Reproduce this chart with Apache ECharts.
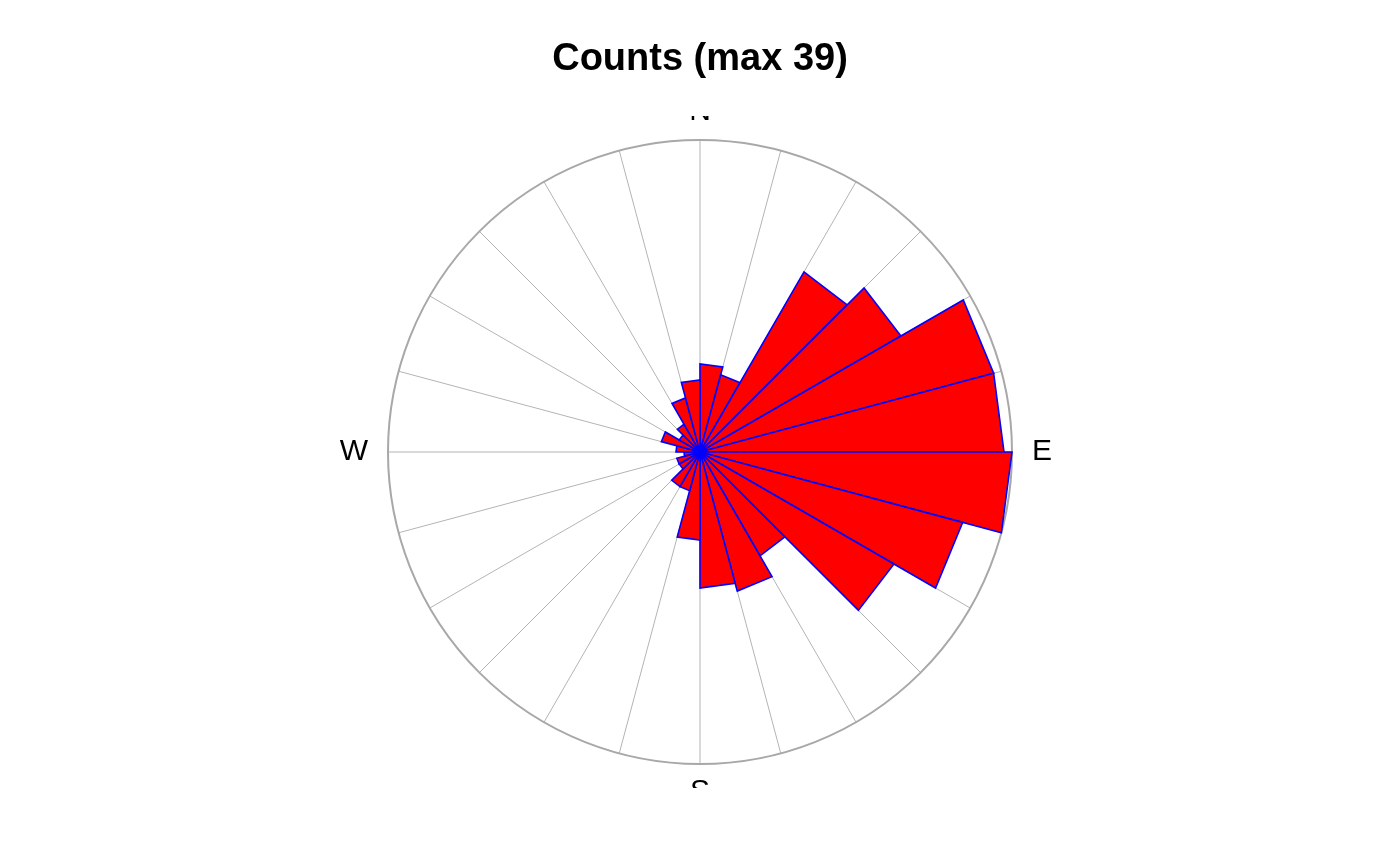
<!DOCTYPE html>
<html>
  <head>
    <meta charset="utf-8">
    <script src="https://cdn.jsdelivr.net/npm/echarts@6/dist/echarts.min.js"></script>
  </head>
  <body style="margin:0; background:#ffffff;">
    <div id="rose_chart" style="width:1400px;height:866px;"></div>
    <script>

      // Settori di 15 gradi (inizio del settore, in gradi da Nord in senso orario)
      const sectorStart = [0, 15, 30, 45, 60, 75, 90, 105, 120, 135, 150, 165,
                           180, 195, 210, 225, 240, 255, 270, 285, 300, 315, 330, 345];
      // Conteggi per settore
      const counts = [11, 10, 26, 29, 38, 38, 39, 34, 28, 15, 18, 17,
                      11, 5, 5, 3, 3, 2, 3, 5, 3, 4, 7, 9];
      const sectorWidth = 15;
      const maxCount = 39;

      // Etichette cardinali
      const compassLabels = {0: 'N', 90: 'E', 180: 'S', 270: 'W'};

      const roseData = sectorStart.map(function (a, i) { return [counts[i], a]; });

      var myChart = echarts.init(document.getElementById('rose_chart'));

      var option = {
        animation: false,
        title: {
          text: 'Counts (max ' + maxCount + ')',
          left: 'center',
          top: 36,
          textStyle: {fontFamily: 'Liberation Sans', fontSize: 38, fontWeight: 'bold', color: '#000'}
        },
        polar: {center: [700, 452], radius: 312},
        angleAxis: {
          type: 'value',
          min: 0,
          max: 360,
          interval: 15,
          startAngle: 90,
          clockwise: true,
          axisLine: {show: true, lineStyle: {color: '#a8a8a8', width: 2}},
          axisTick: {show: false},
          splitLine: {show: true, lineStyle: {color: '#b4b4b4', width: 1}},
          axisLabel: {
            margin: 20,
            fontFamily: 'Liberation Sans',
            fontSize: 30,
            lineHeight: 16,
            color: '#000',
            formatter: function (v) { return compassLabels[v] || ''; }
          }
        },
        radiusAxis: {
          type: 'value',
          min: 0,
          max: maxCount,
          axisLine: {show: false},
          axisTick: {show: false},
          axisLabel: {show: false},
          splitLine: {show: false}
        },
        series: [{
          type: 'custom',
          coordinateSystem: 'polar',
          data: roseData,
          renderItem: function (params, api) {
            var r = api.value(0);
            var a = api.value(1);
            var c = api.coord([0, a]);
            var p1 = api.coord([r, a]);
            var p2 = api.coord([r, a + sectorWidth]);
            return {
              type: 'polygon',
              shape: {points: [c, p1, p2]},
              style: {fill: '#ff0000', stroke: '#0000ff', lineWidth: 1.6}
            };
          }
        }],
        // la regione del grafico taglia N e S come nell'originale
        graphic: [
          {type: 'rect', z: 100, shape: {x: 650, y: 88, width: 100, height: 28}, style: {fill: '#ffffff'}},
          {type: 'rect', z: 100, shape: {x: 650, y: 788, width: 100, height: 40}, style: {fill: '#ffffff'}}
        ]
      };
      myChart.setOption(option);

    </script>
  </body>
</html>
